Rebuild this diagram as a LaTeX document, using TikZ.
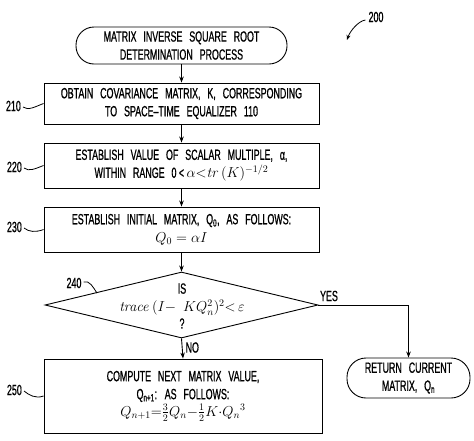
\documentclass[tikz,border=0pt]{standalone}
\usepackage[no-math]{fontspec}
\setmainfont{Liberation Sans}[FakeStretch=0.6, WordSpace=2.8, FakeBold=0.8]
\usetikzlibrary{shapes.geometric,arrows.meta}
\newcommand{\fsz}{\fontsize{14.8}{18}\selectfont}
\tikzset{
  pbox/.style={draw, line width=0.9pt, align=center, minimum width=275pt, inner sep=0pt, font=\fsz},
  term/.style={draw, line width=0.9pt, align=center, inner sep=0pt, font=\fsz},
  arr/.style={-{Stealth[length=6pt,width=4.5pt]}, line width=0.9pt},
  lbl/.style={font=\fsz, inner sep=0pt},
  sq/.style={line width=0.8pt}
}
\begin{document}
\begin{tikzpicture}[x=1pt,y=-1pt]
\useasboundingbox (0,0) rectangle (474,440);
% start
\node[term, minimum width=211pt, minimum height=37pt, rounded corners=18pt] (start) at (181.5,45.5)
  {MATRIX INVERSE SQUARE ROOT\\DETERMINATION PROCESS};
\node[pbox, minimum height=41pt] (b210) at (181.5,103.5)
  {OBTAIN COVARIANCE MATRIX, K, CORRESPONDING\\TO SPACE--TIME EQUALIZER 110};
\node[pbox, minimum height=45pt] (b220) at (181.5,165.5)
  {ESTABLISH VALUE OF SCALAR MULTIPLE, α,\\WITHIN RANGE 0\,<\,$\alpha{<}\mathit{tr}\,(K)^{-1/2}$};
\node[pbox, minimum height=45pt] (b230) at (181.5,229.5)
  {ESTABLISH INITIAL MATRIX, Q\textsubscript{0}, AS FOLLOWS:\\$Q_0 = \alpha I$};
\node[draw, diamond, minimum width=273pt, minimum height=66pt, inner sep=0pt, line width=0.9pt] (d240) at (181.5,305) {};
\node[align=center, font=\fsz, inner sep=0pt] (d240t) at (182,306)
  {IS\\[0pt] $\mathit{trace}\,(I{-}\ KQ_n^2)^2{<}\,\varepsilon$\\[-1pt] ?};
\node[pbox, minimum width=278pt, minimum height=74pt] (b250) at (183,396)
  {COMPUTE NEXT MATRIX VALUE,\\Q\textsubscript{n+1}: AS FOLLOWS:\\[-1pt]$Q_{n+1}{=}\frac{3}{2}Q_n{-}\frac{1}{2}K{\cdot}Q_n{}^3$};
\node[term, minimum width=123pt, minimum height=40pt, rounded corners=19pt] (ret) at (408.5,378)
  {RETURN CURRENT\\MATRIX, Q\textsubscript{n}};
% connectors
\draw[arr] (start) -- (b210);
\draw[arr] (b210) -- (b220);
\draw[arr] (b220) -- (b230);
\draw[arr] (b230.south) -- (d240.north);
\draw[arr] (d240.south) -- node[lbl, anchor=west, xshift=3pt, pos=0.45] (no) {NO} (b250.north);
\draw[arr] (d240.east) -| (ret.north);
\node[lbl] (yes) at (329,296) {YES};
% reference labels
\node[lbl, anchor=east] (l210) at (21,106) {210};
\node[lbl, anchor=east] (l220) at (22,167) {220};
\node[lbl, anchor=east] (l230) at (22,227) {230};
\node[lbl, anchor=east] (l250) at (22,390) {250};
\node[lbl] (l240) at (74,283) {240};
\node[lbl] (l200) at (376,17) {200};
\draw[sq] (l210.east) ++(2,1) .. controls +(5,4) and +(-8,3) .. (b210.west);
\draw[sq] (l220.east) ++(2,1) .. controls +(5,4) and +(-8,3) .. (b220.west);
\draw[sq] (l230.east) ++(2,1) .. controls +(5,4) and +(-8,3) .. (b230.west);
\draw[sq] (l250.east) ++(2,1) .. controls +(5,4) and +(-8,3) .. (b250.west);
\coordinate (e240) at (97,293.1);
\draw[sq] (l240.east) ++(2,-1) .. controls +(6,-2) and +(-4,-6) .. (e240);
\coordinate (t200) at (347,40);
\draw[sq, -{Stealth[length=5pt,width=4pt]}] (l200.west) ++(-3,3) .. controls +(-7,1) and +(3,-9) .. (t200);
\end{tikzpicture}
\end{document}
